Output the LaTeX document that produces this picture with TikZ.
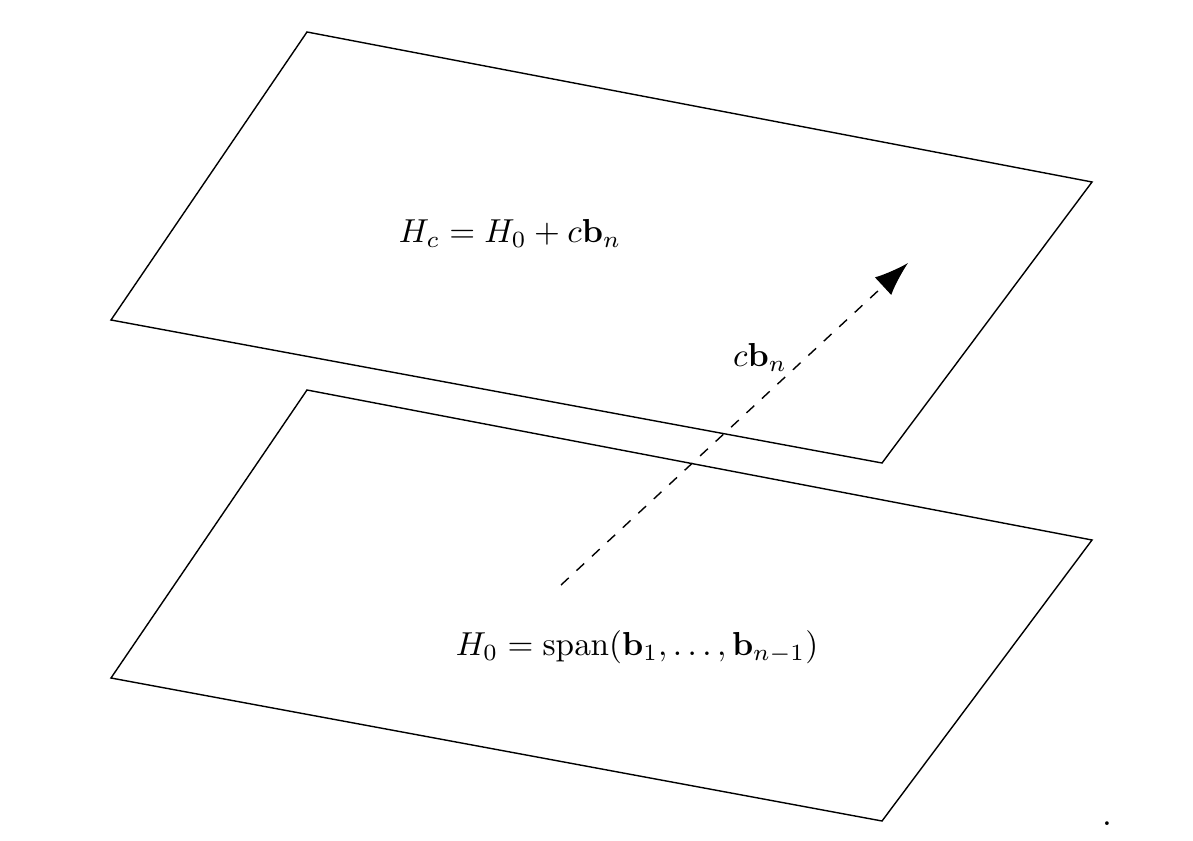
\documentclass[tikz,border=0pt]{standalone}
\usepackage{amsmath}
\usetikzlibrary{arrows.meta}
\begin{document}
\begin{tikzpicture}[lbl/.style={scale=0.945}]
	\useasboundingbox (0,0) rectangle (11.93,8.4);
	% Upper plane H_c
	\coordinate (A1) at (3.07, 8.08);
	\coordinate (B1) at (10.92, 6.58);
	\coordinate (C1) at (8.82, 3.77);
	\coordinate (D1) at (1.11, 5.20);
	% Lower plane H_0
	\coordinate (A0) at (3.07, 4.50);
	\coordinate (B0) at (10.92, 3.00);
	\coordinate (C0) at (8.82, 0.19);
	\coordinate (D0) at (1.11, 1.62);
	% Vector c b_n
	\coordinate (O) at (5.61, 2.55);
	\coordinate (P) at (9.08, 5.77);
	\draw[fill=white] (A0) -- (B0) -- (C0) -- (D0) -- cycle;
	\draw[dashed, -{Latex[length=3.4mm, width=2.4mm]}] (O) -- (P);
	\draw (A1) -- (B1) -- (C1) -- (D1) -- cycle;
	\node[lbl] (hc) at (5.10, 6.07) {$H_c = H_0 + c\mathbf{b}_n$};
	\node[lbl] (h0) at (6.37, 1.93) {$H_0 = \operatorname{span}(\mathbf{b}_1, \dots, \mathbf{b}_{n-1})$};
	\node[lbl] (vec) at (7.60, 4.83) {$c\mathbf{b}_n$};
	\node (dot) at (11.07, 0.16) {.};
\end{tikzpicture}
\end{document}
